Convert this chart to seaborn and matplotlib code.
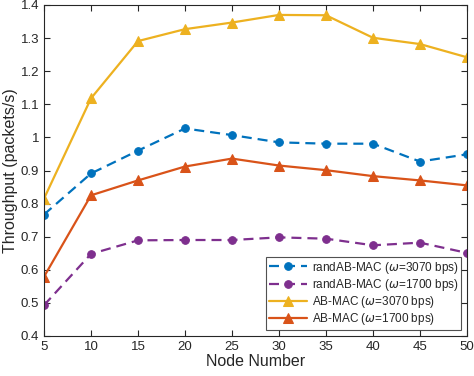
import matplotlib
matplotlib.use("Agg")
import matplotlib.pyplot as plt
import pandas as pd
import seaborn as sns

node_number = [5, 10, 15, 20, 25, 30, 35, 40, 45, 50]

rand_3070 = [0.767, 0.891, 0.960, 1.027, 1.007, 0.985, 0.981, 0.981, 0.927, 0.949]
rand_1700 = [0.493, 0.648, 0.689, 0.690, 0.690, 0.698, 0.694, 0.674, 0.682, 0.651]
ab_3070 = [0.815, 1.118, 1.291, 1.327, 1.347, 1.370, 1.369, 1.301, 1.282, 1.242]
ab_1700 = [0.579, 0.825, 0.870, 0.912, 0.936, 0.915, 0.901, 0.883, 0.870, 0.855]

labels = [
    r"randAB-MAC ($\omega$=3070 bps)",
    r"randAB-MAC ($\omega$=1700 bps)",
    r"AB-MAC ($\omega$=3070 bps)",
    r"AB-MAC ($\omega$=1700 bps)",
]

sns.set_style("ticks")
plt.rcParams["font.family"] = ["Liberation Sans", "DejaVu Sans"]
plt.rcParams["mathtext.fontset"] = "dejavusans"

fig = plt.figure(figsize=(4.74, 3.76), dpi=100)
ax = fig.add_axes([44 / 474, 40 / 376, 423 / 474, 331 / 376])

## series
series = [
    (rand_3070, "#0072BD", "o", (4.5, 2.7), 5.5),
    (rand_1700, "#7E2F8E", "o", (4.5, 2.7), 5.5),
    (ab_3070, "#EDB120", "^", "", 7.5),
    (ab_1700, "#D95319", "^", "", 7.5),
]
for (vals, color, marker, dash, ms), lab in zip(series, labels):
    df = pd.DataFrame({"x": node_number, "y": vals})
    sns.lineplot(
        data=df, x="x", y="y", ax=ax, color=color, marker=marker,
        markersize=ms, markeredgecolor=color, linewidth=1.6, label=lab,
    )
    if dash:
        ax.lines[-1].set_dashes(dash)

ax.set_xlim(5, 50)
ax.set_ylim(0.4, 1.4)
ax.set_xticks(node_number)
ax.set_yticks([0.4, 0.5, 0.6, 0.7, 0.8, 0.9, 1.0, 1.1, 1.2, 1.3, 1.4])
ax.set_yticklabels(["0.4", "0.5", "0.6", "0.7", "0.8", "0.9", "1", "1.1", "1.2", "1.3", "1.4"])
ax.tick_params(direction="in", top=True, right=True, labelsize=9.5, length=4,
               color="#262626", labelcolor="#262626")
for sp in ax.spines.values():
    sp.set_visible(True)
    sp.set_color("#262626")
    sp.set_linewidth(0.8)

ax.set_xlabel("Node Number", fontsize=11.5, color="#262626", labelpad=1)
ax.set_ylabel("Throughput (packets/s)", fontsize=11.5, color="#262626", labelpad=2)

leg = ax.legend(loc="lower right", fontsize=8.5, frameon=True, fancybox=False,
                edgecolor="#262626", handlelength=3.2, borderpad=0.25,
                labelspacing=0.1, handletextpad=0.4, borderaxespad=0.5)
leg.get_frame().set_linewidth(0.8)

fig.savefig("out.png", dpi=100)
